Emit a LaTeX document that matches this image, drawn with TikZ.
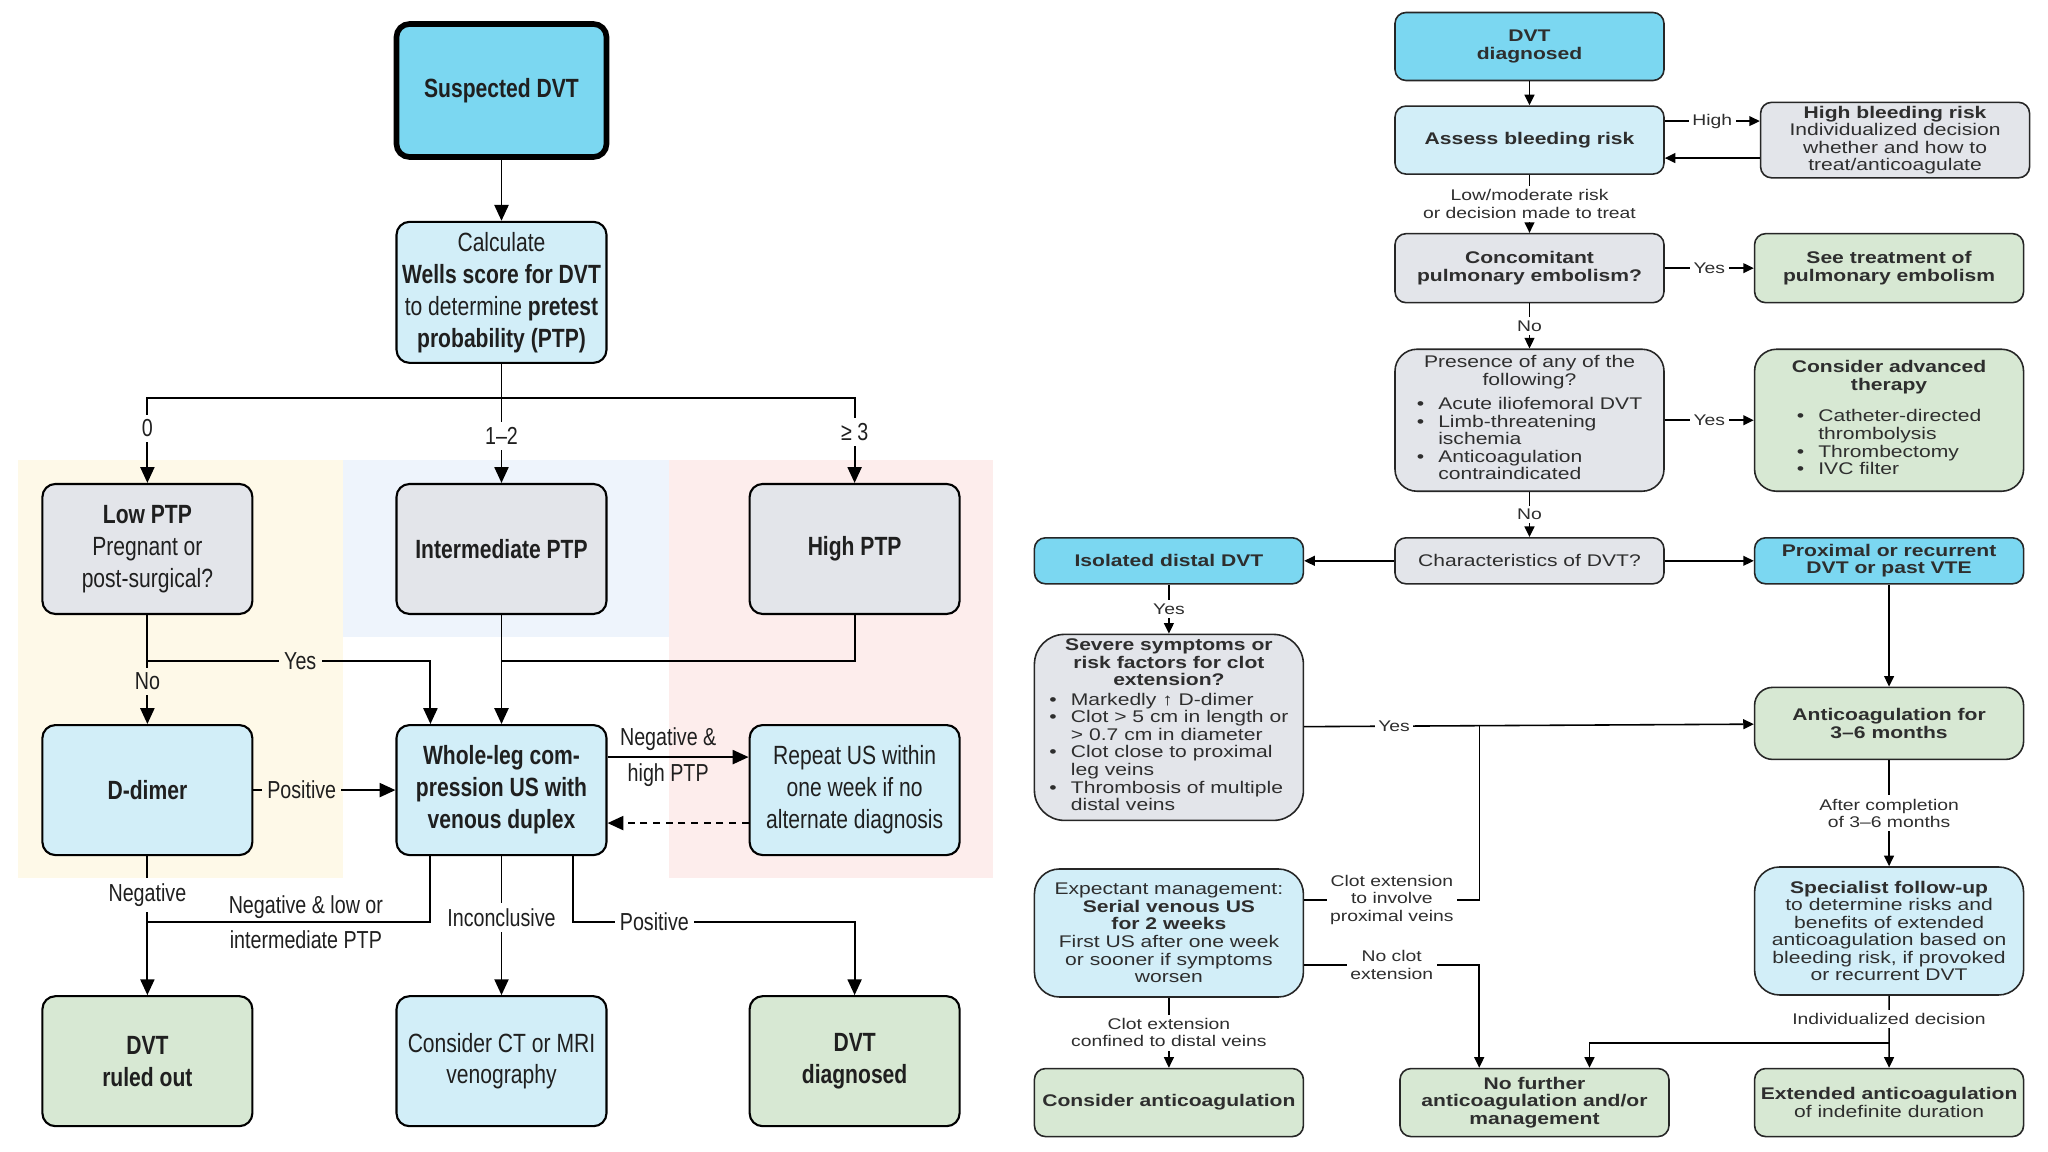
\documentclass[tikz,border=0pt]{standalone}
\usepackage{fontspec}
\newfontfamily\leftfont[FakeStretch=0.8]{Liberation Sans}
\newfontfamily\rightfont[FakeStretch=1.25]{Liberation Sans}
\usepackage{tikz}
\usetikzlibrary{positioning, arrows.meta, calc}

\definecolor{dvtcyan}{HTML}{7BD7F1}
\definecolor{lightcyan}{HTML}{D2EEF8}
\definecolor{boxgray}{HTML}{E3E5EA}
\definecolor{boxgreen}{HTML}{D7E8D3}
\definecolor{bgyellow}{HTML}{FEF9E8}
\definecolor{bgblue}{HTML}{EEF4FC}
\definecolor{bgred}{HTML}{FDEDEC}

\begin{document}
\begin{tikzpicture}[
      leftbox/.style={
         rectangle,
         rounded corners=1.3mm,
         draw=black,
         line width=0.6pt,
         minimum width=2.10cm,
         minimum height=1.30cm,
         inner sep=1pt,
         align=center,
         text=black!88,
         font=\leftfont\fontsize{7.5}{9.1}\selectfont},
      rightbox/.style={
         rectangle,
         rounded corners=1.1mm,
         draw=black!85,
         line width=0.45pt,
         minimum width=2.69cm,
         minimum height=0.68cm,
         inner sep=1pt,
         align=center,
         text=black!82,
         font=\rightfont\fontsize{4.8}{5.0}\selectfont},
      llabel/.style={fill=white, inner sep=1.5pt, align=center, text=black!88,
         font=\leftfont\fontsize{7.0}{9}\selectfont},
      rlabel/.style={fill=white, inner sep=1pt, align=center, text=black!82,
         font=\rightfont\fontsize{4.4}{4.9}\selectfont},
      myarrow/.style={-{Triangle[length=4.5pt,width=4pt]}, line width=0.55pt},
      myline/.style={line width=0.55pt},
      rarrow/.style={-{Triangle[length=3pt,width=2.8pt]}, line width=0.45pt},
      rline/.style={line width=0.45pt}
      ]
      \useasboundingbox (0,0) rectangle (20.48,-11.52);
      \fill[white] (0,0) rectangle (20.48,-11.52);

      % coloured bands behind the PTP columns
      \fill[bgyellow] (0.18,-4.60) rectangle (3.43,-8.78);
      \fill[bgblue] (3.43,-4.60) rectangle (6.69,-6.37);
      \fill[bgred] (6.69,-4.60) rectangle (9.93,-8.78);

      % left flowchart: diagnosis
      \node[leftbox, fill=dvtcyan, line width=1.6pt, minimum height=1.33cm] (susp) at (5.015,-0.905) {\textbf{Suspected DVT}};
      \node[leftbox, fill=lightcyan, minimum height=1.41cm, below=0.61cm of susp] (calc) {Calculate\\\textbf{Wells score for DVT}\\to determine \textbf{pretest}\\\textbf{probability (PTP)}};
      \node[leftbox, fill=boxgray, below=1.19cm of calc] (inter) {\textbf{Intermediate PTP}};
      \node[leftbox, fill=boxgray, left=1.42cm of inter] (low) {\textbf{Low PTP}\\Pregnant or\\post-surgical?};
      \node[leftbox, fill=boxgray, right=1.41cm of inter] (high) {\textbf{High PTP}};
      \node[leftbox, fill=lightcyan, below=1.09cm of inter] (whole) {\textbf{Whole-leg com-}\\\textbf{pression US with}\\\textbf{venous duplex}};
      \node[leftbox, fill=lightcyan, left=1.42cm of whole] (ddimer) {\textbf{D-dimer}};
      \node[leftbox, fill=lightcyan, right=1.41cm of whole] (repus) {Repeat US within\\one week if no\\alternate diagnosis};
      \node[leftbox, fill=boxgreen, below=1.39cm of ddimer] (ruled) {\textbf{DVT}\\\textbf{ruled out}};
      \node[leftbox, fill=lightcyan, below=1.39cm of whole] (ctmri) {Consider CT or MRI\\venography};
      \node[leftbox, fill=boxgreen, below=1.39cm of repus] (ldiag) {\textbf{DVT}\\\textbf{diagnosed}};

      \draw[myarrow] (susp) -- (calc);
      \draw[myline] (calc.south) -- ++(0,-0.34) coordinate (split);
      \draw[myarrow] (split) -| node[llabel, pos=0.68] {0} (low.north);
      \draw[myarrow] (split) -- node[llabel, pos=0.45] {1–2} (inter.north);
      \draw[myarrow] (split) -| node[llabel, pos=0.7] {≥ 3} (high.north);

    \foreach \i/\j/\txt/\p/\bg in {% start node/end node/text/position/fill
      low/ddimer/No/0.61/bgyellow,
      ddimer/whole/Positive/0.34/bgyellow,
      ddimer/ruled/Negative/0.28/white,
      whole/ctmri/Inconclusive/0.44/white}
       \draw[myarrow] (\i) -- node[llabel, pos=\p, fill=\bg] {\txt} (\j);

      \draw[myarrow] (inter) -- (whole);
      \draw[myarrow] ([yshift=-4.6mm]low.south) -| node[llabel, fill=bgyellow, pos=0.27] {Yes} ([xshift=3.5mm]whole.north west);
      \draw[myline] (high.south) |- ([yshift=-4.6mm]inter.south);
      \draw[myarrow] ([yshift=3.3mm]whole.east) -- node[llabel, fill=none, pos=0.43] {Negative \&\\[1pt]high PTP} ([yshift=3.3mm]repus.west);
      \draw[myarrow, dash pattern=on 2pt off 1.6pt] ([yshift=-3.3mm]repus.west) -- ([yshift=-3.3mm]whole.east);
      \draw[myline] ([xshift=3.5mm]whole.south west) |- node[llabel, fill=none, pos=0.72] {Negative \& low or\\[1pt]intermediate PTP} ([yshift=-6.6mm]ddimer.south);
      \draw[myarrow] ([xshift=-3.5mm]whole.south east) -- ++(0,-0.66) -| node[llabel, pos=0.145] {Positive} (ldiag.north);

      % right flowchart: treatment
      \node[rightbox, fill=dvtcyan] (rdiag) at (15.295,-0.465) {\textbf{DVT}\\\textbf{diagnosed}};
      \node[rightbox, fill=lightcyan, below=0.24cm of rdiag] (assess) {\textbf{Assess bleeding risk}};
      \node[rightbox, fill=boxgray, right=0.95cm of assess] (bleed) {\textbf{High bleeding risk}\\Individualized decision\\whether and how to\\treat/anticoagulate};
      \node[rightbox, fill=boxgray, minimum height=0.69cm, below=0.58cm of assess] (concom) {\textbf{Concomitant}\\\textbf{pulmonary embolism?}};
      \node[rightbox, fill=boxgreen, minimum height=0.69cm, right=0.89cm of concom] (pemb) {\textbf{See treatment of}\\\textbf{pulmonary embolism}};
      \node[rightbox, fill=boxgray, minimum height=1.42cm, rounded corners=2.2mm, below=0.45cm of concom] (presence) {Presence of any of the\\following?\\[2pt]\begin{tabular}[t]{@{}l@{\hspace{4pt}}l@{}}
         \textbullet & Acute iliofemoral DVT\\
         \textbullet & Limb-threatening\\
                     & ischemia\\
         \textbullet & Anticoagulation\\
                     & contraindicated
         \end{tabular}};
      \node[rightbox, fill=boxgreen, minimum height=1.42cm, rounded corners=2.2mm, right=0.89cm of presence] (advanced) {\textbf{Consider advanced}\\\textbf{therapy}\\[4pt]\begin{tabular}[t]{@{}l@{\hspace{4pt}}l@{}}
         \textbullet & Catheter-directed\\
                     & thrombolysis\\
         \textbullet & Thrombectomy\\
         \textbullet & IVC filter
         \end{tabular}};
      \node[rightbox, fill=boxgray, minimum height=0.46cm, below=0.45cm of presence] (charact) {Characteristics of DVT?};
      \node[rightbox, fill=dvtcyan, minimum height=0.46cm, left=0.90cm of charact] (isolated) {\textbf{Isolated distal DVT}};
      \node[rightbox, fill=dvtcyan, minimum height=0.46cm, right=0.89cm of charact] (proximal) {\textbf{Proximal or recurrent}\\\textbf{DVT or past VTE}};
      \node[rightbox, fill=boxgray, minimum height=1.86cm, rounded corners=3mm, below=0.49cm of isolated] (severe) {\textbf{Severe symptoms or}\\\textbf{risk factors for clot}\\\textbf{extension?}\\[0.5pt]\begin{tabular}[t]{@{}l@{\hspace{4pt}}l@{}}
         \textbullet & Markedly ↑ D-dimer\\
         \textbullet & Clot > 5 cm in length or\\
                     & > 0.7 cm in diameter\\
         \textbullet & Clot close to proximal\\
                     & leg veins\\
         \textbullet & Thrombosis of multiple\\
                     & distal veins
         \end{tabular}};
      \node[rightbox, fill=lightcyan, minimum height=1.28cm, rounded corners=2.5mm, below=0.47cm of severe] (expect) {Expectant management:\\\textbf{Serial venous US}\\\textbf{for 2 weeks}\\First US after one week\\or sooner if symptoms\\worsen};
      \node[rightbox, fill=boxgreen, below=0.70cm of expect] (consider) {\textbf{Consider anticoagulation}};
      \node[rightbox, fill=boxgreen, right=0.95cm of consider] (nofurther) {\textbf{No further}\\\textbf{anticoagulation and/or}\\\textbf{management}};
      \node[rightbox, fill=boxgreen, right=0.84cm of nofurther] (extended) {\textbf{Extended anticoagulation}\\of indefinite duration};
      \node[rightbox, fill=boxgreen, minimum height=0.72cm, rounded corners=1.8mm, below=1.02cm of proximal] (anticoag) {\textbf{Anticoagulation for}\\\textbf{3–6 months}};
      \node[rightbox, fill=lightcyan, minimum height=1.28cm, rounded corners=2.5mm, below=1.06cm of anticoag] (special) {\textbf{Specialist follow-up}\\to determine risks and\\benefits of extended\\anticoagulation based on\\bleeding risk, if provoked\\or recurrent DVT};

    \foreach \i/\j in {rdiag/assess, charact/isolated, charact/proximal, proximal/anticoag}
       \draw[rarrow] (\i) -- (\j);

    \foreach \i/\j/\txt in {% start node/end node/text
      concom/pemb/Yes,
      concom/presence/No,
      presence/advanced/Yes,
      presence/charact/No,
      isolated/severe/Yes}
       \draw[rarrow] (\i) -- node[rlabel] {\txt} (\j);

      \draw[rarrow] ([yshift=1.9mm]assess.east) -- node[rlabel] {High} ([yshift=1.9mm]bleed.west);
      \draw[rarrow] ([yshift=-1.8mm]bleed.west) -- ([yshift=-1.8mm]assess.east);
      \draw[rarrow] (assess) -- node[rlabel] {Low/moderate risk\\or decision made to treat} (concom);
      \draw[rarrow] (severe) -- node[rlabel, pos=0.2] {Yes} coordinate[pos=0.39] (join) (anticoag);
      \draw[rline] ([yshift=3.3mm]expect.east) -| node[rlabel, pos=0.25] {Clot extension\\to involve\\proximal veins} (join);
      \draw[rarrow] ([yshift=-3.2mm]expect.east) -| node[rlabel, pos=0.25] {No clot\\extension} ([xshift=8mm]nofurther.north west);
      \draw[rarrow] (expect) -- node[rlabel] {Clot extension\\confined to distal veins} (consider);
      \draw[rarrow] (anticoag) -- node[rlabel] {After completion\\of 3–6 months} (special);
      \draw[rarrow] (special) -- node[rlabel, pos=0.32] {Individualized decision} (extended);
      \draw[rarrow] ([yshift=-4.7mm]special.south) -| ([xshift=5.5mm]nofurther.north);
    \end{tikzpicture}
\end{document}
